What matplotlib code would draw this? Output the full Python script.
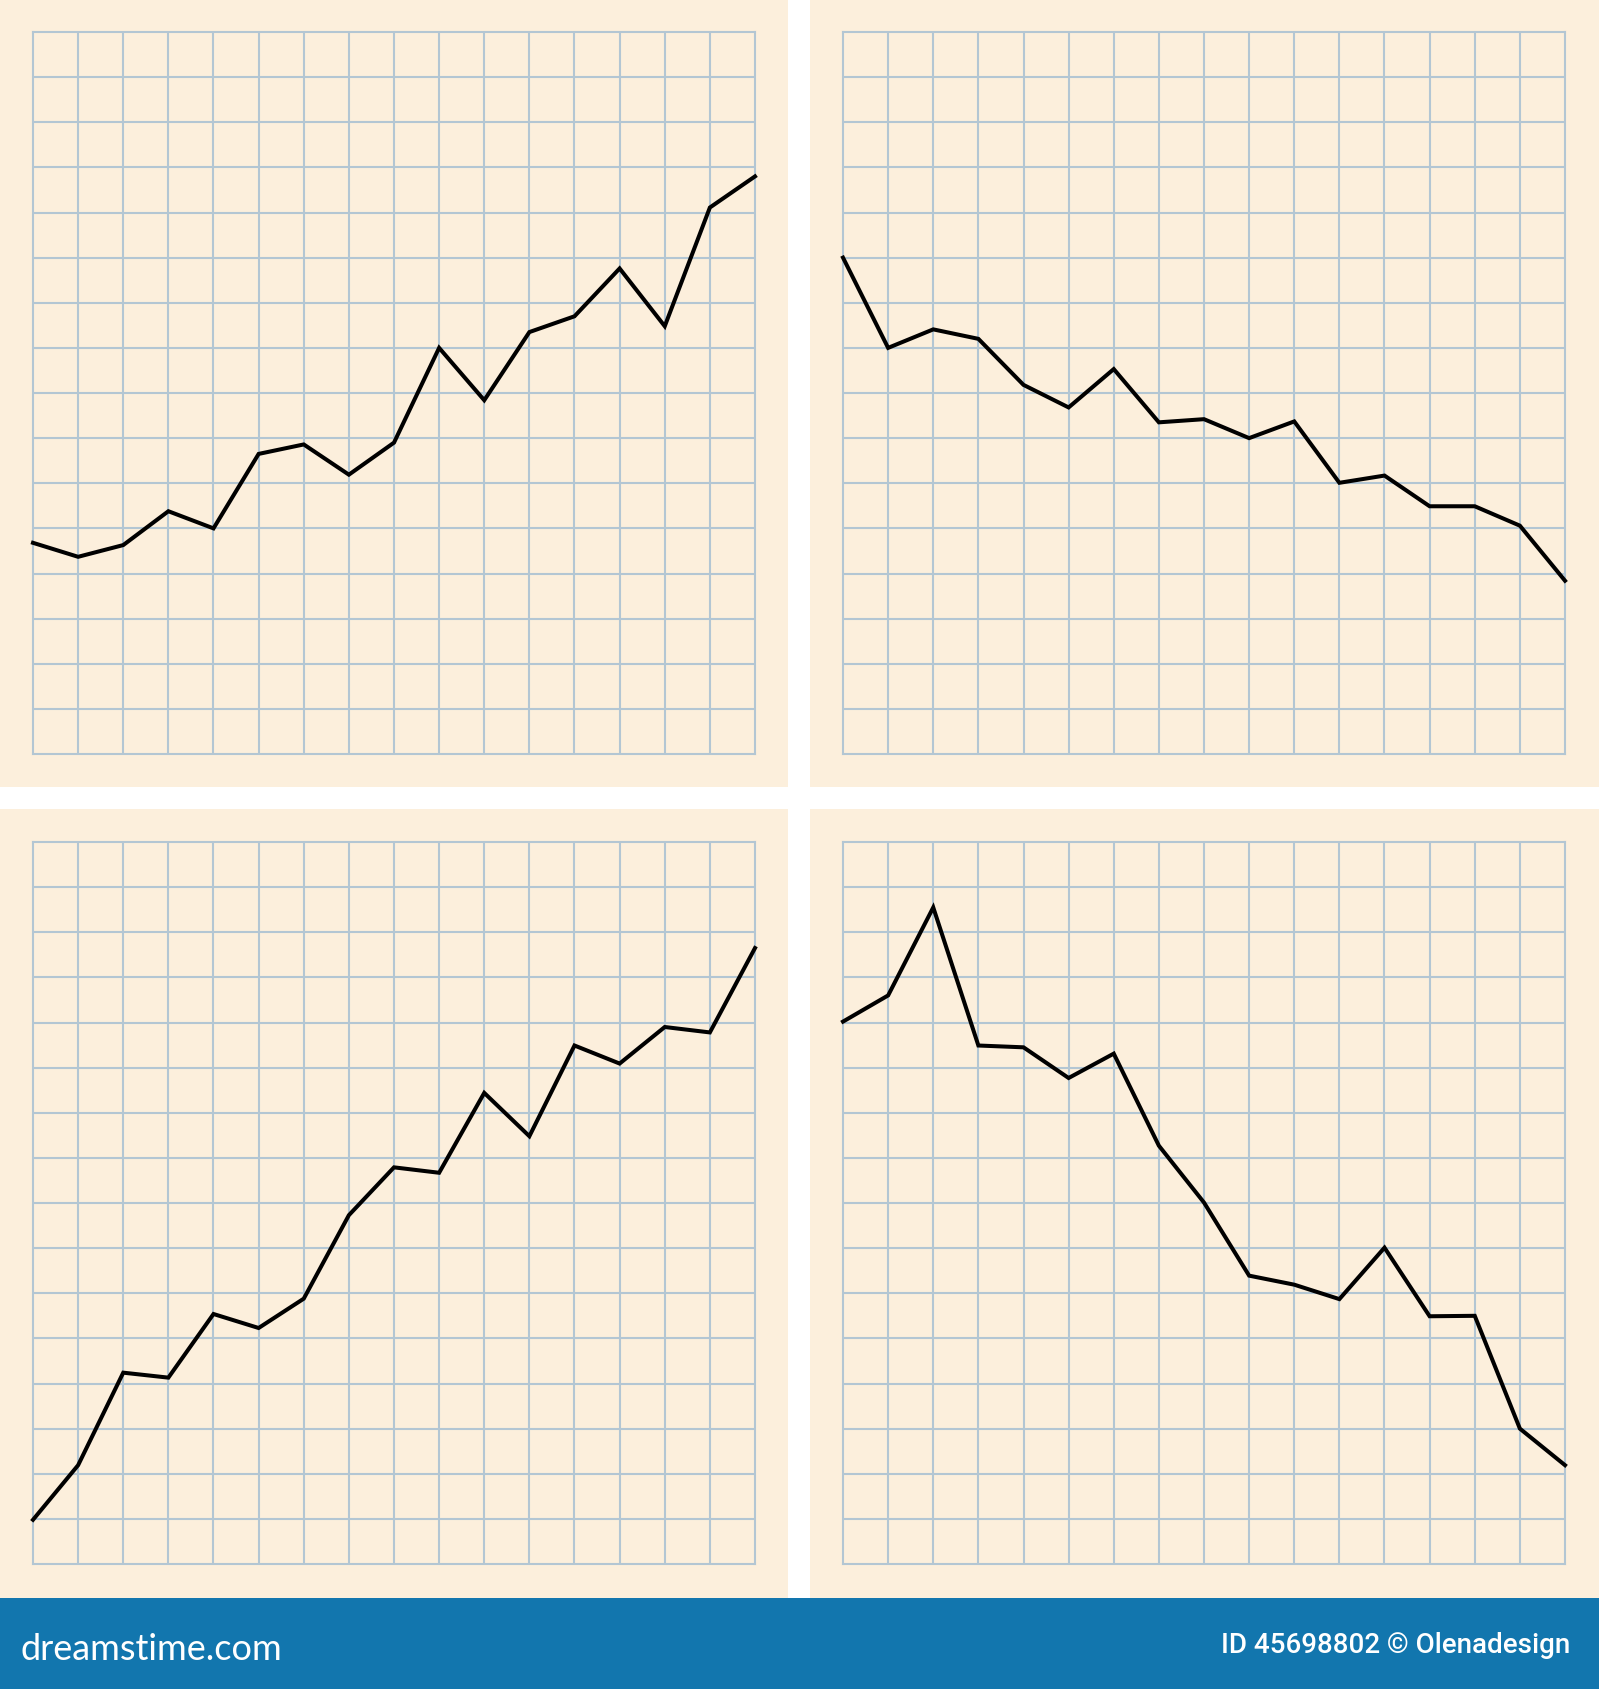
import matplotlib
matplotlib.use('Agg')
import matplotlib.pyplot as plt
from matplotlib.patches import Rectangle

# values in grid units (16 x 16 squares), one point per vertical grid line
x_steps = list(range(17))
rise_a = [4.68, 4.37, 4.63, 5.38, 5.00, 6.65, 6.86, 6.19, 6.90, 9.00, 7.84,
          9.35, 9.70, 10.76, 9.48, 12.11, 12.80]
fall_a = [11.00, 9.00, 9.41, 9.20, 8.18, 7.68, 8.53, 7.35, 7.42, 7.00, 7.37,
          6.01, 6.17, 5.49, 5.49, 5.06, 3.84]
rise_b = [0.98, 2.19, 4.24, 4.13, 5.54, 5.23, 5.88, 7.73, 8.79, 8.67, 10.44,
          9.48, 11.49, 11.09, 11.90, 11.78, 13.65]
fall_b = [12.02, 12.60, 14.55, 11.49, 11.45, 10.77, 11.31, 9.27, 8.01, 6.39,
          6.19, 5.87, 7.01, 5.49, 5.50, 3.00, 2.19]

series = [rise_a, fall_a, rise_b, fall_b]
credit_left = 'dreamstime.com'
credit_right = 'ID 45698802 \u00a9 Olenadesign'

W, H = 1599, 1690
CREAM = '#fcefdc'
GRID = '#b3c6d3'
BANNER = '#1276ae'


def box(x, y, w, h):
    # pixel box (top-left origin) -> figure fraction [left, bottom, width, height]
    return [x / W, 1 - (y + h) / H, w / W, h / H]


fig = plt.figure(figsize=(W / 100, H / 100), dpi=100, facecolor='white')

panels = [(0, 0, 788, 788), (810, 0, 789, 788), (0, 810, 788, 789), (810, 810, 789, 789)]
grids = [(33, 33, 722, 722), (843, 33, 722, 722), (33, 843, 722, 722), (843, 843, 722, 722)]

for pbox, gbox, ys in zip(panels, grids, series):
    l, b, w, h = box(*pbox)
    fig.patches.append(Rectangle((l, b), w, h, transform=fig.transFigure,
                                 facecolor=CREAM, edgecolor='none', zorder=-5))
    ax = fig.add_axes(box(*gbox))
    ax.set_facecolor('none')
    ax.set_xlim(0, 16)
    ax.set_ylim(0, 16)
    ax.set_xticks(range(1, 16))
    ax.set_yticks(range(1, 16))
    ax.tick_params(length=0, labelleft=False, labelbottom=False)
    ax.grid(True, color=GRID, linewidth=1.5)
    ax.set_axisbelow(True)
    for sp in ax.spines.values():
        sp.set_color(GRID)
        sp.set_linewidth(1.5)
    ax.plot(x_steps, ys, color='black', linewidth=2.9, clip_on=False,
            solid_joinstyle='miter', zorder=3)

l, b, w, h = box(0, 1599, 1599, 91)
fig.patches.append(Rectangle((l, b), w, h, transform=fig.transFigure,
                             facecolor=BANNER, edgecolor='none', zorder=-5))

fig.text(21 / W, 1 - 1650 / H, credit_left, color='white', fontsize=26,
         family='Lato', va='center', ha='left')
fig.text(1570 / W, 1 - 1646 / H, credit_right, color='white', fontsize=20,
         family='Roboto', weight='medium', va='center', ha='right')

fig.savefig('out.png', dpi=100, facecolor='white')
